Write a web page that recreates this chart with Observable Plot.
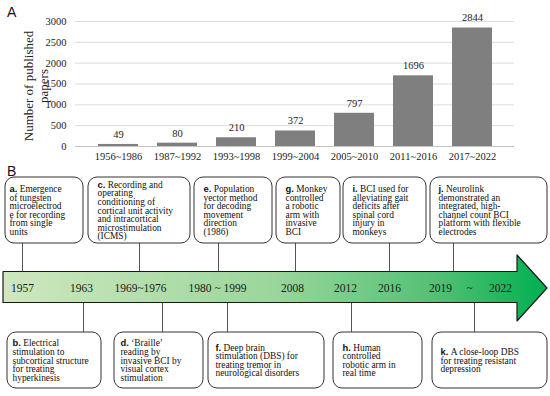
<!DOCTYPE html>
<html>
<head>
<meta charset="utf-8">
<script src="https://cdn.jsdelivr.net/npm/d3@7"></script>
<script src="https://cdn.jsdelivr.net/npm/@observablehq/plot@0.6"></script>
<style>
  html, body { margin: 0; padding: 0; background: #fff; }
  #fig { position: relative; width: 550px; height: 396px; overflow: hidden; background: #fff; }
  #fig .panel { position: absolute; left: 0; }
  #fig .tag { position: absolute; font-family: "Liberation Sans", Arial, sans-serif; font-size: 14px; color: #111; }
</style>
</head>
<body>
<div id="fig">
  <div class="panel" id="pa" style="top:0"></div>
  <div class="panel" id="pb" style="top:168px"></div>
  <span class="tag" style="left:7px;top:4px">A</span>
  <span class="tag" style="left:7px;top:163px">B</span>
</div>
<script>
// ---------- Data (panel A) ----------
const periods = ["1956~1986", "1987~1992", "1993~1998", "1999~2004", "2005~2010", "2011~2016", "2017~2022"];
const paperCounts = [49, 80, 210, 372, 797, 1696, 2844];
const yTickValues = [0, 500, 1000, 1500, 2000, 2500, 3000];
const yAxisTitleLines = ["Number of published", "papers"];

// ---------- Data (panel B) ----------
const yearLabels = ["1957", "1963", "1969~1976", "1980 ~ 1999", "2008", "2012", "2016", "2019", "~", "2022"];
const topLetters = ["a.", "c.", "e.", "g.", "i.", "j."];
const topTexts = [
  ["Emergence", "of tungsten", "microelectrod", "e for recording", "from single", "units"],
  ["Recording and", "operating", "conditioning of", "cortical unit activity", "and intracortical", "microstimulation", "(ICMS)"],
  ["Population", "vector method", "for decoding", "movement", "direction", "(1986)"],
  ["Monkey", "controlled", "a robotic", "arm with", "invasive", "BCI"],
  ["BCI used for", "alleviating gait", "deficits after", "spinal cord", "injury in", "monkeys"],
  ["Neurolink", "demonstrated an", "integrated, high-", "channel count BCI", "platform with flexible", "electrodes"]
];
const bottomLetters = ["b.", "d.", "f.", "h.", "k."];
const bottomTexts = [
  ["Electrical", "stimulation to", "subcortical structure", "for treating", "hyperkinesis"],
  ["\u2018Braille\u2019", "reading by", "invasive BCI by", "visual cortex", "stimulation"],
  ["Deep brain", "stimulation (DBS) for", "treating tremor in", "neurological disorders"],
  ["Human", "controlled", "robotic arm in", "real time"],
  ["A close-loop DBS", "for treating resistant", "depression"]
];

// ---------- Layout (panel B, in figure pixels) ----------
const yearCenters = [22, 81, 140, 217, 292, 345, 389, 440, 469, 500];
const topBoxX1 = [5, 88, 194, 276, 343, 430];
const topBoxX2 = [83, 190, 272, 340, 426, 547];
const topTextPad = [4, 9, 9, 9, 9, 8];
const topLinkX = [22, 139, 218, 295, 389, 453];
const bottomBoxX1 = [7, 114, 208, 333, 432];
const bottomBoxX2 = [101, 203, 324, 422, 547];
const bottomTextPad = [5, 6, 7, 9, 8];
const bottomLinkX = [83, 162, 227, 351, 474];
const topBoxY = [177, 243];
const bottomBoxY = [332, 388];
const arrowBody = [271.5, 302.5];
const arrowHead = {x: 517, tipX: 547, top: 255, bottom: 321};
const arrowLeft = 3;
const yearY = 288;

const serif = "'Liberation Serif', 'Times New Roman', serif";
const sans = "'Liberation Sans', Arial, sans-serif";

// ---------- Panel A ----------
const rows = periods.map((p, i) => ({period: p, count: paperCounts[i]}));
const titleOffsets = [-47, -32];

const chartA = Plot.plot({
  width: 550,
  height: 168,
  marginLeft: 75,
  marginRight: 36,
  marginTop: 21,
  marginBottom: 22,
  style: {fontFamily: serif, fontSize: "10.5px", color: "#222", background: "transparent"},
  x: {domain: periods, padding: 0.33, label: null, tickSize: 0, tickPadding: 6},
  y: {domain: [0, 3000], ticks: yTickValues, tickFormat: d => String(d), label: null, tickSize: 0, tickPadding: 9},
  marks: [
    Plot.gridY(yTickValues, {stroke: "#dcdcdc", strokeOpacity: 1}),
    Plot.barY(rows, {x: "period", y: "count", fill: "#7f7f7f"}),
    Plot.ruleY([0], {stroke: "#c4c4c4"}),
    Plot.text(rows, {x: "period", y: "count", text: d => String(d.count), dy: -10, fill: "#222"}),
    ...yAxisTitleLines.map((t, i) => Plot.text([t], {frameAnchor: "left", textAnchor: "middle", dx: titleOffsets[i], dy: 2, rotate: -90, fontSize: 13, fill: "#222"}))
  ]
});
document.getElementById("pa").appendChild(chartA);

// ---------- Panel B ----------
const ctx = document.createElement("canvas").getContext("2d");
const boxFont = 9.4;
const lineGap = 8.6;
function letterWidth(letter) {
  ctx.font = `bold ${boxFont}px ${sans}`;
  const w = ctx.measureText(letter).width;
  ctx.font = `${boxFont}px ${serif}`;
  return w + ctx.measureText(" ").width;
}

const boxes = [];
const links = [];
const letterMarks = [];
const lineMarks = [];
function addBoxes(letters, texts, x1s, x2s, pads, linkXs, yb, linkY1, linkY2) {
  letters.forEach((letter, i) => {
    boxes.push({x1: x1s[i], x2: x2s[i], y1: yb[0], y2: yb[1]});
    links.push({x: linkXs[i], y1: linkY1, y2: linkY2});
    const lines = texts[i];
    const cy = (yb[0] + yb[1]) / 2;
    const tx = x1s[i] + pads[i];
    lines.forEach((t, j) => {
      const y = cy + (j - (lines.length - 1) / 2) * lineGap;
      if (j === 0) {
        letterMarks.push({x: tx, y, text: letter});
        lineMarks.push({x: tx + letterWidth(letter), y, text: t});
      } else {
        lineMarks.push({x: tx, y, text: t});
      }
    });
  });
}
addBoxes(topLetters, topTexts, topBoxX1, topBoxX2, topTextPad, topLinkX, topBoxY, topBoxY[1], arrowBody[0]);
addBoxes(bottomLetters, bottomTexts, bottomBoxX1, bottomBoxX2, bottomTextPad, bottomLinkX, bottomBoxY, arrowBody[1], bottomBoxY[0]);

const arrowPts = [
  {x: arrowLeft, y1: arrowBody[0], y2: arrowBody[1]},
  {x: arrowHead.x, y1: arrowBody[0], y2: arrowBody[1]},
  {x: arrowHead.x, y1: arrowHead.top, y2: arrowHead.bottom},
  {x: arrowHead.tipX, y1: (arrowHead.top + arrowHead.bottom) / 2, y2: (arrowHead.top + arrowHead.bottom) / 2}
];
const years = yearLabels.map((t, i) => ({x: yearCenters[i], y: yearY, text: t}));

const gradientDefs = () => {
  const defs = d3.create("svg:defs");
  const g = defs.append("linearGradient").attr("id", "arrowGrad").attr("x1", "0").attr("x2", "1").attr("y1", "0").attr("y2", "0");
  g.append("stop").attr("offset", "0").attr("stop-color", "#cfe7bf");
  g.append("stop").attr("offset", "0.5").attr("stop-color", "#9ad69b");
  g.append("stop").attr("offset", "0.8").attr("stop-color", "#52c074");
  g.append("stop").attr("offset", "1").attr("stop-color", "#00b050");
  return defs.node();
};

const chartB = Plot.plot({
  width: 550,
  height: 228,
  margin: 0,
  style: {fontFamily: serif, background: "transparent", overflow: "visible"},
  x: {domain: [0, 550], range: [0, 550], axis: null},
  y: {domain: [168, 396], range: [0, 228], axis: null},
  marks: [
    gradientDefs,
    Plot.ruleX(links, {x: "x", y1: "y1", y2: "y2", stroke: "#555", strokeWidth: 1}),
    Plot.area(arrowPts, {x1: "x", y1: "y1", y2: "y2", fill: "url(#arrowGrad)", stroke: "#1a1a1a", strokeWidth: 1.2}),
    Plot.rect(boxes, {x1: "x1", x2: "x2", y1: "y1", y2: "y2", rx: 9, fill: "white", stroke: "#333", strokeWidth: 1}),
    Plot.text(years, {x: "x", y: "y", text: "text", fontSize: 11.5, fill: "#1a1a1a"}),
    Plot.text(letterMarks, {x: "x", y: "y", text: "text", textAnchor: "start", fontFamily: sans, fontWeight: "bold", fontSize: boxFont, fill: "#111"}),
    Plot.text(lineMarks, {x: "x", y: "y", text: "text", textAnchor: "start", fontSize: boxFont, fill: "#111"})
  ]
});
document.getElementById("pb").appendChild(chartB);
</script>
</body>
</html>
